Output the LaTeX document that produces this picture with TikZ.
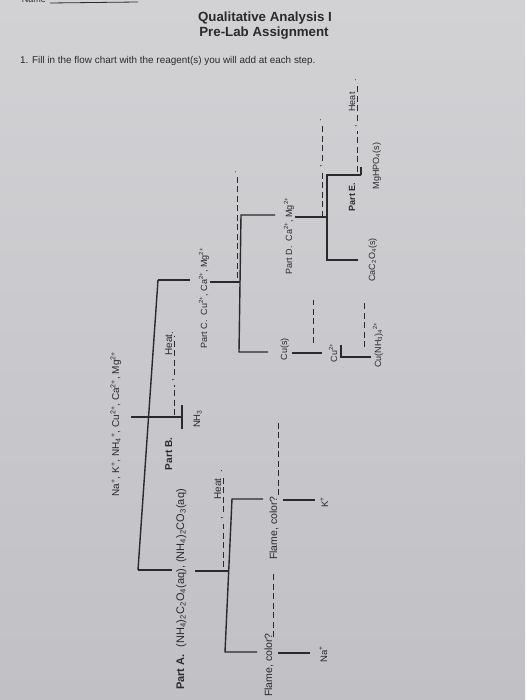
\documentclass[tikz,border=0pt]{standalone}
\usepackage{fontspec}
\setmainfont{Liberation Sans}
\newcommand\sps[1]{\textsuperscript{#1}}
\newcommand\sbs[1]{\textsubscript{#1}}
\definecolor{ink}{HTML}{2A2A2C}
\definecolor{paperA}{HTML}{D2D2D5}
\definecolor{paperB}{HTML}{C0C0C5}
\begin{document}
\begin{tikzpicture}[x=1pt,y=-1pt,
  lbl/.style={rotate=90,anchor=base,inner sep=0pt,text=ink},
  fs/.style={font=\fontsize{#1}{#1}\selectfont},
  ln/.style={draw=ink,line width=1.4pt},
  blank/.style={draw=ink,line width=0.9pt,dash pattern=on 6pt off 3.5pt},
  hd/.style={text=ink,inner sep=0pt,font=\fontsize{13.3}{14}\selectfont\bfseries}]
\useasboundingbox (0,0) rectangle (525,700);
\shade[top color=paperA,bottom color=paperB] (0,0) rectangle (525,700);
% header
\node[hd] (t1) at (265,18) {Qualitative Analysis I};
\node[hd] (t2) at (264,33) {Pre-Lab Assignment};
\node[text=ink,inner sep=0pt,anchor=west,fs=9.9] (q1) at (20,61) {1. Fill in the flow chart with the reagent(s) you will add at each step.};
\node[text=ink,inner sep=0pt,anchor=base,fs=9] (nm) at (34,3) {Name};
\coordinate (nmA) at (50,3); \coordinate (nmB) at (138,2);
\draw[draw=ink,line width=0.8pt] (nmA) -- (nmB);
% labels
\node[lbl,fs=10] (root) at (119,424) {Na\sps{+}, K\sps{+}, NH\sbs{4}\sps{+}, Cu\sps{2+}, Ca\sps{2+}, Mg\sps{2+}};
\node[lbl,fs=11,anchor=base west] (pA) at (184,690) {\bfseries Part A.\hspace{7pt}\mdseries(NH\sbs4)\sbs2C\sbs2O\sbs4(aq), (NH\sbs4)\sbs2CO\sbs3(aq)};
\node[lbl,fs=10] (hA) at (221,489) {Heat};
\node[lbl,fs=10] (pB) at (172,454) {\bfseries Part B.};
\node[lbl,fs=10] (hB) at (172,345) {Heat};
\node[lbl,fs=9.5] (nh3) at (200,419) {NH\sbs3};
\node[lbl,fs=9] (pC) at (207,298) {Part C.\hspace{5pt}Cu\sps{2+}, Ca\sps{2+}, Mg\sps{2+}};
\node[lbl,fs=9] (pD) at (292,236) {Part D.\hspace{5pt}Ca\sps{2+}, Mg\sps{2+}};
\node[lbl,fs=9] (pE) at (355,197) {\bfseries Part E.};
\node[lbl,fs=9] (hE) at (355,102) {Heat};
\node[lbl,fs=9] (mg) at (379,166) {MgHPO\sbs4(s)};
\node[lbl,fs=9] (ca) at (375,260) {CaC\sbs2O\sbs4(s)};
\node[lbl,fs=9] (cus) at (287,349) {Cu(s)};
\node[lbl,fs=9] (cu2) at (337,353) {Cu\sps{2+}};
\node[lbl,fs=9] (cuam) at (381,345) {Cu(NH\sbs3)\sbs4\sps{2+}};
\node[lbl,fs=10.5] (fl1) at (277,528) {Flame, color?};
\node[lbl,fs=10.5] (fl2) at (272,665) {Flame, color?};
\node[lbl,fs=9.5] (kp) at (328,502) {K\sps{+}};
\node[lbl,fs=9.5] (nap) at (327,654) {Na\sps{+}};
% commas and periods of the blanks
\node[lbl,fs=10] (cmA) at (222,518) {,};
\node[lbl,fs=10] (ptA) at (222,471) {.};
\node[lbl,fs=10] (cmB) at (173,380) {,};
\node[lbl,fs=10] (ptB) at (173,333) {.};
\node[lbl,fs=9] (ptC) at (236,172) {.};
\node[lbl,fs=9] (cmD) at (321,166) {,};
\node[lbl,fs=9] (ptD) at (321,120) {.};
\node[lbl,fs=9] (cmE) at (356,126) {,};
\node[lbl,fs=9] (ptE) at (356,80) {.};
% blanks
\coordinate (bA1) at (223,567); \coordinate (bA2) at (223,524);
\coordinate (bA3) at (223,512); \coordinate (bA4) at (223,475);
\draw[blank] (bA1) -- (bA2); \draw[blank] (bA3) -- (bA4);
\coordinate (bB1) at (174,415); \coordinate (bB2) at (174,385);
\coordinate (bB3) at (174,375); \coordinate (bB4) at (174,336);
\draw[blank] (bB1) -- (bB2); \draw[blank] (bB3) -- (bB4);
\coordinate (bC1) at (237,278); \coordinate (bC2) at (237,176);
\draw[blank] (bC1) -- (bC2);
\coordinate (bD1) at (322,217); \coordinate (bD2) at (322,171);
\coordinate (bD3) at (322,161); \coordinate (bD4) at (322,123);
\draw[blank] (bD1) -- (bD2); \draw[blank] (bD3) -- (bD4);
\coordinate (bE1) at (357,172); \coordinate (bE2) at (357,131);
\coordinate (bE3) at (357,121); \coordinate (bE4) at (357,83);
\draw[blank] (bE1) -- (bE2); \draw[blank] (bE3) -- (bE4);
\coordinate (bU1) at (313,343); \coordinate (bU2) at (313,300);
\draw[blank] (bU1) -- (bU2);
\coordinate (bV1) at (364,347); \coordinate (bV2) at (364,302);
\draw[blank] (bV1) -- (bV2);
\coordinate (bF1) at (278,495); \coordinate (bF2) at (278,420);
\draw[blank] (bF1) -- (bF2);
\coordinate (bG1) at (273,637); \coordinate (bG2) at (273,573);
\draw[blank] (bG1) -- (bG2);
% main bracket
\coordinate (r0) at (131,417); \coordinate (brB) at (182,417);
\draw[ln] (r0) -- (brB);
\coordinate (brB1) at (182,405); \coordinate (brB2) at (182,429);
\draw[ln] (brB1) -- (brB2);
\coordinate (mT) at (158,280); \coordinate (mB) at (138,570);
\draw[ln] (mT) -- (mB);
\coordinate (cIn) at (190,280); \coordinate (cOut) at (210,282); \coordinate (cJ) at (240,282);
\draw[ln] (mT) -- (cIn); \draw[ln] (cOut) -- (cJ);
\coordinate (aIn) at (172,570); \coordinate (aOut) at (195,571); \coordinate (aJ) at (228.5,571);
\draw[ln] (mB) -- (aIn); \draw[ln] (aOut) -- (aJ);
% part A bracket
\coordinate (aT) at (232,499); \coordinate (aBt) at (225,652);
\coordinate (aT2) at (263,499); \coordinate (aB2) at (257,652);
\draw[ln] (aT2) -- (aT) -- (aBt) -- (aB2);
\coordinate (k1) at (283,500); \coordinate (k2) at (315,500);
\coordinate (n1) at (278,653); \coordinate (n2) at (310,653);
\draw[ln] (k1) -- (k2); \draw[ln] (n1) -- (n2);
% part C bracket
\coordinate (cT) at (241,215); \coordinate (cBt) at (239,352);
\coordinate (cT2) at (275,215); \coordinate (cB2) at (268,352);
\draw[ln] (cT2) -- (cT) -- (cBt) -- (cB2);
\coordinate (dOut) at (295,217); \coordinate (dJ) at (327,217);
\draw[ln] (dOut) -- (dJ);
\coordinate (u1) at (292,353); \coordinate (u2) at (322,353);
\draw[ln] (u1) -- (u2);
\coordinate (v0) at (341,345); \coordinate (v1) at (341,357); \coordinate (v2) at (371,357);
\draw[ln] (v0) -- (v1) -- (v2);
% part D bracket
\coordinate (dT) at (327,175); \coordinate (dBt) at (327,260);
\coordinate (eT) at (361,175); \coordinate (dB2) at (358,260);
\draw[ln] (eT) -- (dT) -- (dBt) -- (dB2);
\coordinate (e1) at (361,167);
\draw[ln] (e1) -- (eT);
\end{tikzpicture}
\end{document}
